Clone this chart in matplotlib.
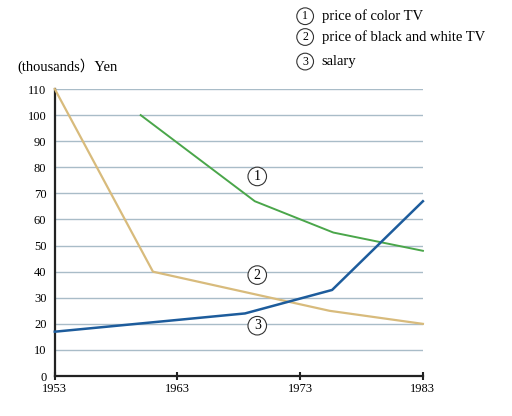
import matplotlib
matplotlib.use('Agg')
import matplotlib.pyplot as plt

plt.rcParams['font.family'] = ['Liberation Serif', 'Noto Sans CJK SC', 'DejaVu Sans']

color_years = [1960, 1969.3, 1975.7, 1983]
color_price = [100, 67, 55, 48]
bw_years = [1953, 1961, 1975.4, 1983]
bw_price = [110, 40, 25, 20]
salary_years = [1953, 1968.5, 1975.6, 1983]
salary = [17, 24, 33, 67]

yticks = list(range(0, 111, 10))
xticks = [1953, 1963, 1973, 1983]
legend_labels = ['price of color TV', 'price of black and white TV', 'salary']
marks = ['1', '2', '3']

fig = plt.figure(figsize=(5.12, 4.16), dpi=100)
ax = fig.add_axes([0.107, 0.096, 0.719, 0.69])

for v in yticks[1:]:
    ax.axhline(v, color='#a9bcc8', lw=1.0, zorder=1)

ax.plot(color_years, color_price, color='#4aa64a', lw=1.4, zorder=3, clip_on=False)
ax.plot(bw_years, bw_price, color='#d8bb7c', lw=1.6, zorder=3, clip_on=False)
ax.plot(salary_years, salary, color='#1d5c9c', lw=1.8, zorder=3, clip_on=False)

circ = dict(boxstyle='circle,pad=0.2', fc='white', ec='#333333', lw=0.8)
ax.text(1969.5, 76.5, marks[0], fontsize=10, ha='center', va='center', bbox=circ, zorder=4)
ax.text(1969.5, 38.7, marks[1], fontsize=10, ha='center', va='center', bbox=circ, zorder=4)
ax.text(1969.5, 19.3, marks[2], fontsize=10, ha='center', va='center', bbox=circ, zorder=4)

ax.set_xlim(1953, 1983)
ax.set_ylim(0, 110)
ax.set_yticks(yticks)
ax.set_xticks(xticks)
ax.tick_params(axis='y', length=0, labelsize=9, pad=6)
ax.tick_params(axis='x', direction='inout', length=6, width=1.5, labelsize=9, pad=2, color='#222222')
for s in ['top', 'right']:
    ax.spines[s].set_visible(False)
for s in ['left', 'bottom']:
    ax.spines[s].set_linewidth(1.6)
    ax.spines[s].set_color('#222222')

fig.text(0.033, 0.84, '(thousands）Yen', fontsize=10.5, va='center')

legend_y = [0.961, 0.911, 0.852]
for i, lab in enumerate(legend_labels):
    fig.text(0.596, legend_y[i], marks[i], fontsize=8.5, ha='center', va='center',
             bbox=dict(boxstyle='circle,pad=0.2', fc='white', ec='#333333', lw=0.8))
    fig.text(0.628, legend_y[i], lab, fontsize=10.5, va='center')

fig.savefig('out.png', dpi=100)
